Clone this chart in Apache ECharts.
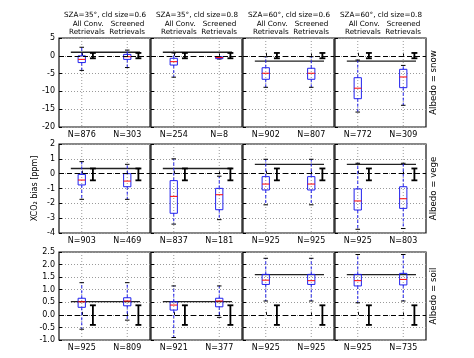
<!DOCTYPE html>
<html><head><meta charset="utf-8">
<script src="https://cdn.jsdelivr.net/npm/echarts@6/dist/echarts.min.js"></script>
<style>html,body{margin:0;padding:0;background:#fff}#c{width:474px;height:358px}</style>
</head><body><div id="c"></div>
<script>
// ---- data ----
const colTitles = ['SZA=35°, cld size=0.6','SZA=35°, cld size=0.8','SZA=60°, cld size=0.6','SZA=60°, cld size=0.8'];
const subTitle1 = 'All Conv.   Screened';
const subTitle2 = 'Retrievals  Retrievals';
const rowLabels = ['Albedo = snow','Albedo = vege','Albedo = soil'];
const yLabel = 'XCO\u2082 bias [ppm]';
const nLabels = [
  [['N=876','N=303'],['N=254','N=8'],['N=902','N=807'],['N=772','N=309']],
  [['N=903','N=469'],['N=837','N=181'],['N=925','N=925'],['N=925','N=803']],
  [['N=925','N=809'],['N=921','N=377'],['N=925','N=925'],['N=925','N=735']]
];
// y axis ranges per row: min, max, interval, decimals
const yMin = [-20, -4, -1];
const yMax = [5, 2, 2.5];
const yStep = [5, 1, 0.5];
const yDecimals = [0, 0, 1];
// box stats [whiskerLow, q1, median, q3, whiskerHigh]; per row, per panel, per box
const boxSnow = [
  [[-4.1,-1.9,-1.0,0.0,2.4],[-3.3,-1.0,-0.25,0.4,1.6]],
  [[-6.0,-2.6,-1.65,-0.7,0.8],[-0.9,-0.8,-0.5,-0.3,-0.2]],
  [[-8.85,-6.6,-4.9,-3.35,-0.25],[-8.85,-6.6,-4.9,-3.5,-0.25]],
  [[-15.8,-12.05,-9.1,-6.15,-1.2],[-13.9,-8.95,-5.95,-3.8,-2.7]]
];
const boxVege = [
  [[-1.73,-0.76,-0.43,-0.05,0.81],[-1.73,-0.88,-0.5,0.0,0.63]],
  [[-3.4,-2.67,-1.53,-0.47,1.0],[-3.1,-2.43,-1.42,-0.99,-0.17]],
  [[-2.1,-1.1,-0.7,-0.2,0.97],[-2.1,-1.1,-0.7,-0.2,0.97]],
  [[-3.75,-2.45,-1.84,-1.03,0.7],[-3.7,-2.34,-1.69,-0.88,0.7]]
];
const boxSoil = [
  [[-0.57,0.3,0.52,0.66,1.28],[-0.21,0.36,0.55,0.68,1.28]],
  [[-0.9,0.19,0.39,0.52,1.15],[-0.1,0.32,0.55,0.66,1.15]],
  [[0.55,1.21,1.38,1.61,2.25],[0.55,1.21,1.36,1.61,2.25]],
  [[0.48,1.15,1.36,1.61,2.4],[0.55,1.19,1.41,1.65,2.4]]
];
const boxes = [boxSnow, boxVege, boxSoil];
// reference (solid) line level per row, per panel
const refLevel = [[1.0,1.0,-1.5,-1.5],[0.35,0.35,0.63,0.63],[0.53,0.53,1.6,1.6]];
// error bar [low, high] per row
const errBar = [[-0.7,0.8],[-0.45,0.35],[-0.4,0.38]];

// ---- layout ----
const colLeft = [59,151,243,335], colW = 91;
const rowTop = [38,144,252], rowH = [89,89,88];
const FONT = 'DejaVu Sans';

const grids = [], xAxes = [], yAxes = [], series = [], graphics = [];
let gi = 0;
for (let r = 0; r < 3; r++) {
  for (let c = 0; c < 4; c++) {
    grids.push({left: colLeft[c], top: rowTop[r], width: colW, height: rowH[r], show: true,
      borderColor: '#111', borderWidth: 1.2, backgroundColor: '#fff'});
    xAxes.push({type: 'category', gridIndex: gi, data: nLabels[r][c], boundaryGap: true,
      axisLine: {show: false}, splitLine: {show: false},
      axisTick: {show: true, inside: true, alignWithLabel: true, length: 3, lineStyle: {color: '#000'}},
      axisLabel: {fontFamily: FONT, fontSize: 8, color: '#000', margin: 4}});
    const dec = yDecimals[r];
    yAxes.push({type: 'value', gridIndex: gi, min: yMin[r], max: yMax[r], interval: yStep[r],
      axisLine: {show: false},
      axisTick: {show: true, inside: true, length: 3, lineStyle: {color: '#000'}},
      splitLine: {show: true, lineStyle: {color: '#9a9a9a', type: [1, 2], width: 1}},
      axisLabel: {show: c === 0, fontFamily: FONT, fontSize: 8, color: '#000', margin: 4,
        formatter: v => v.toFixed(dec)}});
    const bx = boxes[r][c];
    // vertical dotted grid lines at box positions
    series.push({type: 'custom', xAxisIndex: gi, yAxisIndex: gi, z: 1, silent: true,
      data: [[0],[1]],
      renderItem: (params, api) => {
        const p = api.coord([api.value(0), 0]);
        const cs = params.coordSys;
        return {type: 'line', shape: {x1: p[0], y1: cs.y, x2: p[0], y2: cs.y + cs.height},
          style: {stroke: '#9a9a9a', lineWidth: 1, lineDash: [1, 2]}};
      }});
    // reference solid line
    series.push({type: 'custom', xAxisIndex: gi, yAxisIndex: gi, z: 2, silent: true,
      data: [[refLevel[r][c]]],
      renderItem: (params, api) => {
        const v = api.value(0);
        const band = api.size([1, 0])[0];
        const a = api.coord([0, v]), b = api.coord([1, v]);
        return {type: 'line', shape: {x1: a[0] - 0.24 * band, y1: a[1], x2: b[0] + 0.28 * band, y2: b[1]},
          style: {stroke: '#222', lineWidth: 1.3}};
      },
      markLine: {silent: true, symbol: 'none', label: {show: false},
        lineStyle: {color: '#000', width: 1.2, type: [5, 3]}, data: [{yAxis: 0}]}});
    // boxes
    series.push({type: 'custom', xAxisIndex: gi, yAxisIndex: gi, z: 3, silent: true,
      data: bx.map((s, i) => [i].concat(s)),
      renderItem: (params, api) => {
        const ci = api.value(0);
        const band = api.size([1, 0])[0];
        const lo = api.coord([ci, api.value(1)]), q1 = api.coord([ci, api.value(2)]),
              md = api.coord([ci, api.value(3)]), q3 = api.coord([ci, api.value(4)]),
              hi = api.coord([ci, api.value(5)]);
        const x = lo[0], bw = band * 0.16, cw = band * 0.1;
        return {type: 'group', children: [
          {type: 'line', shape: {x1: x, y1: q3[1], x2: x, y2: hi[1]}, style: {stroke: '#2222ee', lineWidth: 1, lineDash: [3, 2]}},
          {type: 'line', shape: {x1: x, y1: q1[1], x2: x, y2: lo[1]}, style: {stroke: '#2222ee', lineWidth: 1, lineDash: [3, 2]}},
          {type: 'line', shape: {x1: x - cw / 2, y1: hi[1], x2: x + cw / 2, y2: hi[1]}, style: {stroke: '#000', lineWidth: 1}},
          {type: 'line', shape: {x1: x - cw / 2, y1: lo[1], x2: x + cw / 2, y2: lo[1]}, style: {stroke: '#000', lineWidth: 1}},
          {type: 'rect', shape: {x: x - bw / 2, y: q3[1], width: bw, height: Math.max(q1[1] - q3[1], 1)},
            style: {stroke: '#2020ee', lineWidth: 1, fill: 'none'}},
          {type: 'line', shape: {x1: x - bw / 2, y1: md[1], x2: x + bw / 2, y2: md[1]}, style: {stroke: '#ff0000', lineWidth: 1}}
        ]};
      }});
    // error bars
    series.push({type: 'custom', xAxisIndex: gi, yAxisIndex: gi, z: 4, silent: true,
      data: [[0, errBar[r][0], errBar[r][1]], [1, errBar[r][0], errBar[r][1]]],
      renderItem: (params, api) => {
        const ci = api.value(0);
        const band = api.size([1, 0])[0];
        const a = api.coord([ci, api.value(1)]), b = api.coord([ci, api.value(2)]);
        const x = a[0] + 0.245 * band, cw = band * 0.13;
        return {type: 'group', children: [
          {type: 'line', shape: {x1: x, y1: a[1], x2: x, y2: b[1]}, style: {stroke: '#000', lineWidth: 1.8}},
          {type: 'line', shape: {x1: x - cw / 2, y1: a[1], x2: x + cw / 2, y2: a[1]}, style: {stroke: '#000', lineWidth: 1.8}},
          {type: 'line', shape: {x1: x - cw / 2, y1: b[1], x2: x + cw / 2, y2: b[1]}, style: {stroke: '#000', lineWidth: 1.8}}
        ]};
      }});
    gi++;
  }
}
// column titles
for (let c = 0; c < 4; c++) {
  const cx = colLeft[c] + colW / 2;
  const lines = [colTitles[c], subTitle1, subTitle2];
  const ys = [15, 24, 32.5];
  const dx = [0.5, 4, 2.5];
  lines.forEach((t, i) => graphics.push({type: 'text', x: cx + dx[i], y: ys[i],
    style: {text: t, fontFamily: FONT, fontSize: 7.2, fill: '#000', textAlign: 'center', textVerticalAlign: 'middle'}}));
}
// row labels
for (let r = 0; r < 3; r++) {
  graphics.push({type: 'text', x: 434, y: rowTop[r] + rowH[r] / 2, rotation: Math.PI / 2,
    style: {text: rowLabels[r], fontFamily: FONT, fontSize: 8.6, fill: '#000', textAlign: 'center', textVerticalAlign: 'middle'}});
}
graphics.push({type: 'text', x: 35, y: rowTop[1] + rowH[1] / 2, rotation: Math.PI / 2,
  style: {text: yLabel, fontFamily: FONT, fontSize: 8, fill: '#000', textAlign: 'center', textVerticalAlign: 'middle'}});

const chart = echarts.init(document.getElementById('c'), null, {renderer: 'canvas'});
chart.setOption({animation: false, backgroundColor: '#fff', grid: grids, xAxis: xAxes, yAxis: yAxes, series: series, graphic: graphics});
</script></body></html>
